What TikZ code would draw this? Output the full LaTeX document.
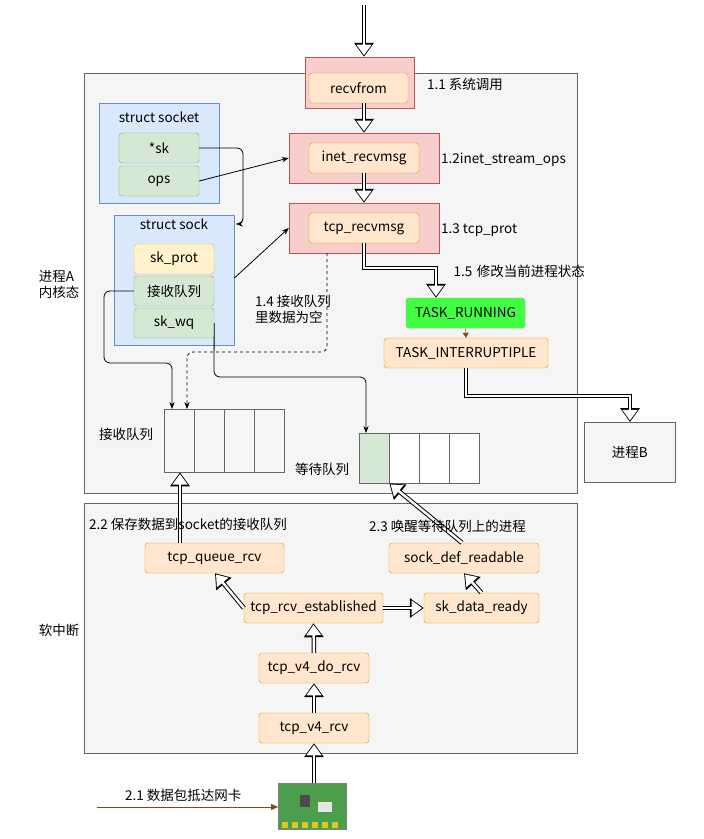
\documentclass[tikz,border=0pt]{standalone}
\usepackage{fontspec}
\setmainfont{Noto Sans CJK SC}
\usetikzlibrary{arrows.meta,positioning}
\definecolor{fnfill}{HTML}{FFE6CC}
\definecolor{fndraw}{HTML}{D79B00}
\definecolor{redfill}{HTML}{F8CECC}
\definecolor{reddraw}{HTML}{B85450}
\definecolor{bluefill}{HTML}{DAE8FC}
\definecolor{bluedraw}{HTML}{6C8EBF}
\definecolor{grnfill}{HTML}{D5E8D4}
\definecolor{grndraw}{HTML}{82B366}
\definecolor{yelfill}{HTML}{FFF2CC}
\definecolor{yeldraw}{HTML}{D6B656}
\definecolor{bgfill}{HTML}{F5F5F5}
\definecolor{bgdraw}{HTML}{666666}
\definecolor{brown}{HTML}{7F4A0B}
\tikzset{
  txt/.style={font=\fontsize{13.5}{16}\selectfont},
  fn/.style={draw=fndraw, fill=fnfill, rounded corners=3pt, txt, inner sep=0pt},
  field/.style={draw=grndraw, fill=grnfill, rounded corners=3pt, minimum width=80, minimum height=30, inner sep=0pt, txt},
  lbl/.style={txt, inner sep=1pt},
  hollow/.style={draw, line width=4.5pt, -{Triangle[length=14pt, width=19pt]},
    postaction={draw=white, line width=2.5pt, -{Triangle[length=10.5pt, width=14.5pt]}, shorten >=1.6pt}},
  link/.style={draw, line width=0.8pt, rounded corners=6pt, -{Stealth[length=7pt]}},
}
\newcommand{\fnnode}[6]{%
\node[fn, minimum width=#4, minimum height=#5] (#1) at (#2,#3) {#6};
}
\newcommand{\queuecells}[4]{%
\foreach \k in {0,...,3}
{
\node[draw=bgdraw, fill=#4, minimum width=30, minimum height=#3, inner sep=0pt, anchor=north west] (#1\k) at ({#2+30*\k}, 0) {};
}
}
\begin{document}
\begin{tikzpicture}[x=1pt, y=-1pt]
\useasboundingbox (0,0) rectangle (704,839);

% background regions
\node[draw=bgdraw, fill=bgfill, minimum width=493, minimum height=420, inner sep=0pt, anchor=north west] (kernel) at (84,73) {};
\node[draw=bgdraw, fill=bgfill, minimum width=493, minimum height=250, inner sep=0pt, anchor=north west] (softirq) at (84,503) {};
\node[lbl, align=left] (procA) at (59,284) {进程A\\内核态};
\node[lbl] (softlbl) at (59,630) {软中断};

% system call path
\node[draw=reddraw, fill=redfill, minimum width=109, minimum height=51, inner sep=0pt] (callbox) at (359.5,82.5) {};
\node[draw=reddraw, fill=redfill, minimum width=150, minimum height=50, inner sep=0pt] (inetbox) at (364,158) {};
\node[draw=reddraw, fill=redfill, minimum width=150, minimum height=50, inner sep=0pt] (tcpbox) at (364,228) {};
\fnnode{recvfrom}{358.5}{88}{99}{30}{recvfrom}
\fnnode{inet}{364}{158}{110}{30}{inet\_recvmsg}
\fnnode{tcprecv}{364}{228}{110}{30}{tcp\_recvmsg}
\node[lbl, anchor=west] (l11) at (426,84) {1.1 系统调用};
\node[lbl, anchor=west] (l12) at (440,160) {1.2inet\_stream\_ops};
\node[lbl, anchor=west] (l13) at (440,230) {1.3 tcp\_prot};
\coordinate (top) at (364,5);
\draw[hollow] (top) -- (callbox.north -| top);
\draw[hollow] (recvfrom.south -| top) -- (inetbox.north -| top);
\draw[hollow] (inet.south -| top) -- (tcpbox.north -| top);

% struct socket / struct sock
\node[draw=bluedraw, fill=bluefill, minimum width=120, minimum height=100, inner sep=0pt, anchor=north west] (socket) at (99,103) {};
\node[lbl] (sockettitle) at (159,117) {struct socket};
\node[field] (sk) at (159,148) {*sk};
\node[field] (ops) at (159,181) {ops};
\node[draw=bluedraw, fill=bluefill, minimum width=120, minimum height=130, inner sep=0pt, anchor=north west] (sock) at (114,215) {};
\node[lbl] (socktitle) at (174,224) {struct sock};
\node[field, draw=yeldraw, fill=yelfill] (skprot) at (174,259) {sk\_prot};
\node[field] (rqfield) at (174,291) {接收队列};
\node[field] (skwq) at (174,323) {sk\_wq};
\draw[link] (sk.east) -| (243,224) -- (236,224);
\draw[link] (ops.east) -- (inetbox.west);
\draw[link] (sock.east |- 0,278) -- (tcpbox.west);

% queues
\begin{scope}[shift={(0,409)}]
\queuecells{rq}{164}{63}{bgfill}
\end{scope}
\begin{scope}[shift={(0,433)}]
\queuecells{wq}{359}{50}{white}
\end{scope}
\node[draw=bgdraw, fill=grnfill, minimum width=30, minimum height=50, inner sep=0pt, anchor=north west] (wq0) at (359,433) {};
\node[lbl] (rqlbl) at (126,434) {接收队列};
\node[lbl] (wqlbl) at (322,469) {等待队列};

\draw[link] (rqfield.west) -- (104,291) -- (104,363) -| (rq0.north -| 172,0);
\draw[link, dashed] (tcpbox.south -| 327,0) -- (327,352) -| (rq0.north -| 187,0);
\draw[link] (skwq.east) -- (214,377) -| (wq0.north -| 366,0);
\node[lbl, align=left] (l14) at (293,309) {1.4 接收队列\\里数据为空};

% task state
\node[draw=grndraw, fill=green!75!white, rounded corners=3pt, minimum width=119, minimum height=30, inner sep=0pt, txt] (running) at (465.5,313) {TASK\_RUNNING};
\fnnode{interrupt}{466}{353}{164}{30}{TASK\_INTERRUPTIPLE}
\draw[brown, -{Triangle[length=5pt, width=6pt]}] (running.south) -- (interrupt.north);
\node[lbl, text width=140, align=center, anchor=north west] (l15) at (448,264) {1.5 修改当前进程状态};
\draw[hollow] (tcprecv.south) -- (364,268) -| (running.north -| 436,0);
\node[draw=bgdraw, fill=bgfill, minimum width=91, minimum height=60, inner sep=0pt, anchor=north west] (procB) at (584,422) {};
\node[lbl] (procBlbl) at (procB) {进程B};
\draw[hollow] (interrupt.south) -- (466,396) -| (procB.north -| 630,0);

% soft irq path
\fnnode{queuercv}{214.5}{558}{139}{30}{tcp\_queue\_rcv}
\fnnode{readable}{464}{558}{150}{30}{sock\_def\_readable}
\fnnode{established}{313.5}{608}{139}{30}{tcp\_rcv\_established}
\fnnode{dataready}{481.5}{608}{115}{30}{sk\_data\_ready}
\fnnode{dorcv}{314}{668}{110}{30}{tcp\_v4\_do\_rcv}
\fnnode{v4rcv}{314}{728}{110}{30}{tcp\_v4\_rcv}

% network card
\node[draw=gray, fill=green!45!black!70!white, minimum width=68, minimum height=46, inner sep=0pt, anchor=north west] (nic) at (278,783) {};
\foreach \i in {0,...,5}
{
\fill[yellow!70!brown] ({282+10*\i},822) rectangle ++(6,6);
}
\fill[black!70] (300,795) rectangle ++(10,12);
\fill[white!80!gray] (318,802) rectangle ++(14,10);
\node[lbl, anchor=west] (l21) at (124,795) {2.1 数据包抵达网卡};
\coordinate (wire) at (97,807);
\draw[brown, -{Triangle[length=7pt, width=6pt]}] (wire) -- (nic.west |- wire);

\draw[hollow] (nic.north -| 314,0) -- (v4rcv.south);
\draw[hollow] (v4rcv.north) -- (dorcv.south);
\draw[hollow] (dorcv.north) -- (established.south);
\draw[hollow] (established.west) -- (queuercv.south -| 215,0);
\draw[hollow] (established.east) -- (dataready.west);
\draw[hollow] (dataready.north) -- (readable.south);
\draw[hollow] (queuercv.north -| 180,0) -- (rq0.south -| 180,0);
\draw[hollow] (readable.north -| 462,0) -- (wq0.south east);
\node[lbl, anchor=west] (l22) at (88,524) {2.2 保存数据到socket的接收队列};
\node[lbl, anchor=west] (l23) at (368,526) {2.3 唤醒等待队列上的进程};
\end{tikzpicture}
\end{document}
